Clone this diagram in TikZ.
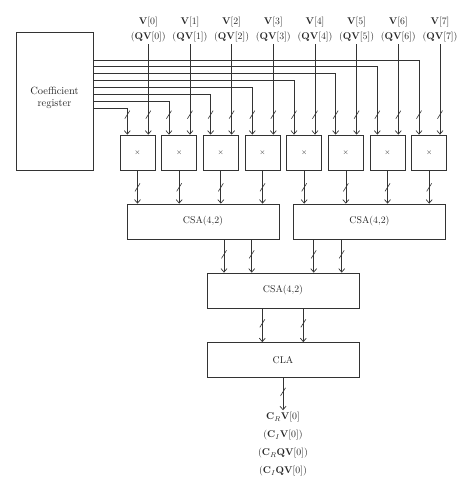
\documentclass[tikz,border=0pt]{standalone}
\usetikzlibrary{calc,arrows.meta}
\begin{document}
\begin{tikzpicture}[x=1pt, y=-1pt, line width=0.7pt, font=\fontsize{9.8}{15}\selectfont, text=black!85,
  block_style/.style={draw=black!80, inner sep=0pt},
  mul_style/.style={block_style, minimum width=35pt, minimum height=35pt, font=\scriptsize},
  adder_style/.style={block_style, minimum width=152pt, minimum height=35pt},
  label_style/.style={align=center, inner sep=2pt},
  wire_style/.style={draw=black!80, -{Straight Barb[length=3.5pt,width=6pt]}},
  bus_mark/.pic={\draw[black!80, line width=0.6pt] (-2.5,4) -- (2.5,-4);}]
  \useasboundingbox (0,0) rectangle (474,494);
  % blocks
  \node[block_style, minimum width=77pt, minimum height=138pt, align=center,
        font=\fontsize{10.5}{12}\selectfont] (coef_reg) at (54.5,101) {Coefficient\\register\\[-4pt]};
  \node[adder_style] (csa_left) at (203,221.5) {CSA(4,2)};
  \node[adder_style] (csa_right) at (369.5,221.5) {CSA(4,2)};
  \node[adder_style] (csa_final) at (283,290.5) {CSA(4,2)};
  \node[adder_style] (cla) at (283,360) {CLA};
  \node[label_style, font=\fontsize{9.8}{18}\selectfont] (result) at (283,444.5)
    {\textbf{C}$_R$\textbf{V}[0]\\(\textbf{C}$_I$\textbf{V}[0])\\(\textbf{C}$_R$\textbf{QV}[0])\\(\textbf{C}$_I$\textbf{QV}[0])};
  % multipliers and their inputs
  \foreach \i in {0,...,7} {
    \pgfmathsetmacro{\xm}{137.5+41.67*\i}
    \pgfmathsetmacro{\yc}{108-6.86*\i}
    \node[mul_style] (mul\i) at (\xm,152.5) {$\times$};
    \node[label_style] (vlbl\i) at (\xm+10.8,29.5) {\textbf{V}[\i]\\(\textbf{QV}[\i])};
    \coordinate (cin\i) at ($(mul\i.north)+(-10.2,0)$);
    \coordinate (cy\i) at (0,\yc);
    \draw[wire_style] (coef_reg.east |- cy\i) -| (cin\i);
    \draw[wire_style] (vlbl\i.south) -- (vlbl\i.south |- mul\i.north);
    \pic at ($(cin\i)+(0,-20)$) {bus_mark};
    \pic at ($(cin\i)+(21,-20)$) {bus_mark};
    \draw[wire_style] (mul\i.south) -- (mul\i.south |- csa_left.north);
    \pic at ($(mul\i.south)+(0,17)$) {bus_mark};
  }
  % partial sums
  \foreach \src/\dx [count=\k] in {csa_left/21, csa_left/48.7, csa_right/-55.8, csa_right/-27.8} {
    \coordinate (ps\k) at ($(\src.south)+(\dx,0)$);
    \draw[wire_style] (ps\k) -- (ps\k |- csa_final.north);
    \pic at ($(ps\k)+(0,15)$) {bus_mark};
  }
  \foreach \dx [count=\k] in {-20.7,20.3} {
    \coordinate (fs\k) at ($(csa_final.south)+(\dx,0)$);
    \draw[wire_style] (fs\k) -- (fs\k |- cla.north);
    \pic at ($(fs\k)+(0,15)$) {bus_mark};
  }
  \draw[wire_style] (cla.south) -- (result.north);
  \pic at ($(cla.south)+(0,14)$) {bus_mark};
\end{tikzpicture}
\end{document}
